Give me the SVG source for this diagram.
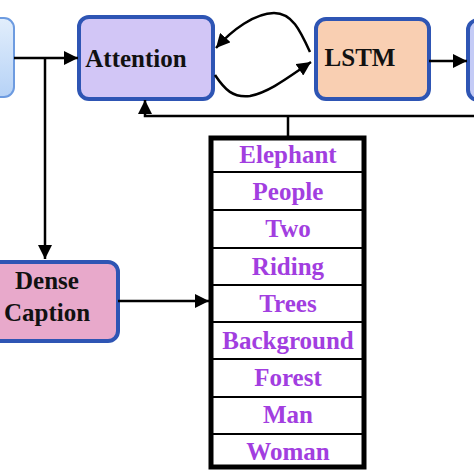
<svg xmlns="http://www.w3.org/2000/svg" width="474" height="474" viewBox="0 0 474 474">
<defs>
<marker id="ah" viewBox="0 0 14 14" refX="14" refY="7" markerWidth="14" markerHeight="14" orient="auto" markerUnits="userSpaceOnUse">
<path d="M0,0 L14,7 L0,14 z" fill="#000"/>
</marker>
<linearGradient id="lg" x1="0" y1="0" x2="0" y2="1">
<stop offset="0" stop-color="#e2eefc"/>
<stop offset="1" stop-color="#b6d2f6"/>
</linearGradient>
<style>
.box{stroke:#2e55b4;stroke-width:4}
.lbl{font-family:"Liberation Serif","Times New Roman",serif;font-weight:bold;font-size:25px;fill:#111;text-anchor:middle}
.w{font-family:"Liberation Serif","Times New Roman",serif;font-weight:bold;font-size:25px;fill:#a23ee0;text-anchor:middle}
.c{fill:none;stroke:#000;stroke-width:2.5}
.div{stroke:#000;stroke-width:2}
</style>
</defs>
<rect width="474" height="474" fill="#fff"/>
<g id="input">
<rect x="-20" y="18" width="34" height="79" rx="10" fill="url(#lg)" stroke="#6d9be0" stroke-width="2"/>
</g>
<g id="attention">
<rect class="box" x="79" y="17" width="134" height="82" rx="10" fill="#d2c6f6"/>
<text class="lbl" x="136" y="67">Attention</text>
</g>
<g id="lstm">
<rect class="box" x="316" y="19" width="113" height="80" rx="10" fill="#f9cfb2"/>
<text class="lbl" x="360" y="66" font-size="23">LSTM</text>
</g>
<g id="output">
<rect class="box" x="468" y="20" width="30" height="80" rx="10" fill="#c4cbf6"/>
</g>
<g id="dense">
<rect class="box" x="-20" y="262" width="138" height="79" rx="10" fill="#e8a9cb"/>
<text class="lbl" x="47" y="289">Dense</text>
<text class="lbl" x="47" y="321">Caption</text>
</g>
<g id="words">
<rect x="211" y="138" width="153" height="329" fill="#fff" stroke="#000" stroke-width="5"/>
<line class="div" x1="211" y1="172" x2="364" y2="172"/>
<line class="div" x1="211" y1="210" x2="364" y2="210"/>
<line class="div" x1="211" y1="248" x2="364" y2="248"/>
<line class="div" x1="211" y1="285" x2="364" y2="285"/>
<line class="div" x1="211" y1="322" x2="364" y2="322"/>
<line class="div" x1="211" y1="359" x2="364" y2="359"/>
<line class="div" x1="211" y1="397" x2="364" y2="397"/>
<line class="div" x1="211" y1="434" x2="364" y2="434"/>
<text class="w" x="288" y="163">Elephant</text>
<text class="w" x="288" y="200">People</text>
<text class="w" x="288" y="237">Two</text>
<text class="w" x="288" y="275">Riding</text>
<text class="w" x="288" y="312">Trees</text>
<text class="w" x="288" y="349">Background</text>
<text class="w" x="288" y="386">Forest</text>
<text class="w" x="288" y="423">Man</text>
<text class="w" x="288" y="460">Woman</text>
</g>
<g id="connectors">
<path class="c" d="M14,58 H78" marker-end="url(#ah)"/>
<path class="c" d="M45,58 V259" marker-end="url(#ah)"/>
<path class="c" d="M474,116 H145 V100" marker-end="url(#ah)"/>
<path class="c" d="M288,116 V136"/>
<path class="c" d="M118,301 H209" marker-end="url(#ah)"/>
<path class="c" d="M429,61 H467" marker-end="url(#ah)"/>
<path class="c" d="M310,52 C300,30 292,13 274,13 C255,13 232,30 216,48" marker-end="url(#ah)"/>
<path class="c" d="M215,75 C225,90 233,98 250,96 C270,92 290,76 311,62" marker-end="url(#ah)"/>
</g>
</svg>
